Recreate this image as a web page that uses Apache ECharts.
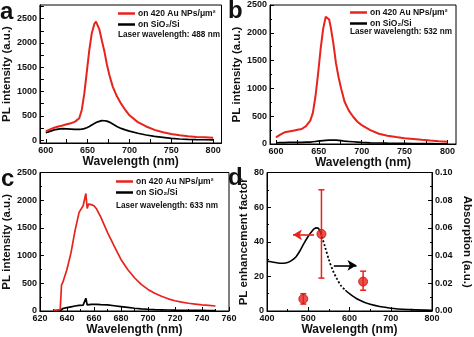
<!DOCTYPE html>
<html><head><meta charset="utf-8">
<script src="https://cdn.jsdelivr.net/npm/echarts@6/dist/echarts.min.js"></script>
<style>html,body{margin:0;padding:0;background:#fff}#c{width:474px;height:337px}</style>
</head><body><div id="c"></div>
<script>
// ---------- data ----------
const nameAu = 'on 420 Au NPs/μm²';
const nameSi = 'on SiO₂/Si';
const laserA = 'Laser wavelength: 488 nm';
const laserB = 'Laser wavelength: 532 nm';
const laserC = 'Laser wavelength: 633 nm';

const abWave = [600,605,610,615,620,625,630,635,640,643,646,649,652,655,658,660,662,664,667,670,673,676,680,685,690,695,700,710,720,730,740,750,760,770,780,790,800];
const aAu    = [180,220,255,280,300,325,345,380,450,620,950,1400,1850,2200,2390,2440,2400,2280,2050,1830,1560,1340,1100,900,750,620,510,370,280,210,160,125,100,80,65,58,50];
const aSi    = [150,180,210,225,235,230,225,220,220,225,235,255,280,310,340,360,375,390,400,398,390,370,330,280,240,210,185,140,105,75,55,35,22,15,10,7,5];
const bAu    = [120,170,210,225,240,255,270,320,420,560,850,1250,1700,2070,2290,2310,2240,2090,1800,1450,1200,1000,760,600,490,400,340,250,185,150,125,105,90,75,62,50,40];
const bSi    = [20,25,25,30,30,30,30,35,35,40,45,50,55,60,65,70,70,72,72,70,65,60,50,45,40,35,30,22,18,14,12,10,8,6,5,4,3];

const cWave = [630,633,635,636,637,640,643,646,649,652,653,654,655,656,658,660,662,665,670,675,680,685,690,695,700,705,710,715,720,725,730,735,740,745,750];
const cAu   = [15,20,25,470,520,750,1050,1450,1780,1900,1880,2120,1850,1930,1920,1900,1840,1700,1420,1170,930,750,600,480,390,320,265,220,185,160,140,125,110,100,90];
const cSi   = [0,0,5,40,45,60,75,90,100,105,105,230,110,115,120,120,120,115,110,95,80,65,50,40,32,26,22,18,15,13,12,10,10,9,8];

const dWave = [400,410,420,430,440,450,460,470,480,490,500,510,515,520,525,530,540,550,560,570,580,590,600,620,650,700,750,800];
const dAbs  = [0.036,0.0355,0.035,0.0345,0.0345,0.035,0.0365,0.039,0.0435,0.049,0.054,0.058,0.0595,0.060,0.0595,0.0565,0.047,0.037,0.029,0.023,0.018,0.015,0.0125,0.0085,0.0048,0.002,0.001,0.0005];
const dotFrom = 530, dotTo = 590;
const ptWave = [488,532,633];
const ptVal  = [7,44.5,17];
const ptLow  = [4,19,12];
const ptHigh = [10,70,23];
const redArrow = [[514,44],[463,44]];
const blackArrow = [[562,0.033],[617,0.033]];

const abXLabels = [600,650,700,750,800];
const abXTicks  = [600,625,650,675,700,725,750,775,800];
const aYLabels  = [0,500,1000,1500,2000,2500];
const aYTicks   = [0,250,500,750,1000,1250,1500,1750,2000,2250,2500,2750];

// ---------- helpers ----------
const RED = '#e8231c';
const FONT = 'Liberation Sans, Arial, sans-serif';
const pairs = (xs, ys) => xs.map((x, i) => [x, ys[i]]);
const lab = {fontFamily: FONT, fontSize: 9, fontWeight: 'bold', color: '#111', margin: 3, formatter: v => String(v)};
const tick = {inside: true, length: 4, lineStyle: {color: '#000', width: 1}};
const minor = {show: true, splitNumber: 2, length: 2, lineStyle: {color: '#000', width: 1}};
const line = {show: true, onZero: false, lineStyle: {color: '#000', width: 1}};
const nameStyle = {fontFamily: FONT, fontSize: 12, fontWeight: 'bold', color: '#111'};
function xAx(grid, extra) {
  return Object.assign({gridIndex: grid, type: 'value', splitLine: {show: false}, axisLine: line,
    name: 'Wavelength (nm)', nameLocation: 'middle', nameGap: 9, nameTextStyle: nameStyle,
    axisLabel: Object.assign({}, lab), axisTick: Object.assign({}, tick)}, extra);
}
function yAx(grid, extra) {
  return Object.assign({gridIndex: grid, type: 'value', splitLine: {show: false}, axisLine: line,
    name: 'PL intensity (a.u.)', nameLocation: 'middle', nameRotate: 90, nameGap: 21,
    nameTextStyle: Object.assign({}, nameStyle, {fontSize: 11.5}),
    axisLabel: Object.assign({}, lab), axisTick: Object.assign({}, tick)}, extra);
}
const splitPart = (lo, hi) => dWave.map((x, i) => [x, dAbs[i]]).filter(p => p[0] >= lo && p[0] <= hi);

const chart = echarts.init(document.getElementById('c'), null, {renderer: 'canvas'});
const gridBase = {show: true, borderColor: '#000', borderWidth: 1, backgroundColor: 'transparent', containLabel: false};
const legendBase = {orient: 'vertical', icon: 'rect', itemWidth: 17, itemHeight: 2.5, itemGap: 2,
  textStyle: {fontFamily: FONT, fontSize: 8.5, fontWeight: 'bold', color: '#111', padding: [0,0,0,-2]}, padding: 0,
  data: [nameAu, nameSi], selectedMode: false};

const option = {
  animation: false,
  grid: [
    Object.assign({left: 39, top: 5, width: 182.5, height: 138}, gridBase),
    Object.assign({left: 270, top: 5, width: 186, height: 139}, gridBase),
    Object.assign({left: 34, top: 172.5, width: 195, height: 138.5}, gridBase),
    Object.assign({left: 267, top: 172.5, width: 170, height: 138.5}, gridBase)
  ],
  xAxis: [
    xAx(0, {min: 593, max: 810, axisLabel: Object.assign({}, lab, {customValues: abXLabels}), axisTick: Object.assign({}, tick, {customValues: abXTicks})}),
    xAx(1, {min: 593, max: 810, axisLabel: Object.assign({}, lab, {customValues: abXLabels}), axisTick: Object.assign({}, tick, {customValues: abXTicks})}),
    xAx(2, {min: 620, max: 760, interval: 20, minorTick: minor}),
    xAx(3, {min: 400, max: 800, interval: 100, minorTick: minor})
  ],
  yAxis: [
    yAx(0, {min: -60, max: 2780, axisLabel: Object.assign({}, lab, {customValues: aYLabels}), axisTick: Object.assign({}, tick, {customValues: aYTicks})}),
    yAx(1, {min: 0, max: 2500, interval: 500, minorTick: minor, nameGap: 26}),
    yAx(2, {min: 0, max: 2500, interval: 500, minorTick: minor, nameGap: 19}),
    yAx(3, {min: 0, max: 80, interval: 20, minorTick: minor, name: 'PL enhancement factor', nameGap: 15}),
    yAx(3, {min: 0, max: 0.1, interval: 0.02, minorTick: minor, position: 'right', name: 'Absorption (a.u.)', nameRotate: -90, nameGap: 29,
      axisLabel: Object.assign({}, lab, {formatter: v => v.toFixed(2)})})
  ],
  legend: [
    Object.assign({left: 118, top: 9}, legendBase),
    Object.assign({left: 350, top: 8}, legendBase),
    Object.assign({left: 116, top: 177}, legendBase)
  ],
  graphic: [
    {type: 'text', left: 118, top: 31, style: {text: laserA, font: 'bold 8.2px ' + FONT, fill: '#111'}},
    {type: 'text', left: 350, top: 28, style: {text: laserB, font: 'bold 8.2px ' + FONT, fill: '#111'}},
    {type: 'text', left: 116, top: 202, style: {text: laserC, font: 'bold 8.2px ' + FONT, fill: '#111'}},
    {type: 'text', left: 0, top: 0, style: {text: 'a', font: 'bold 24px ' + FONT, fill: '#111'}},
    {type: 'text', left: 228, top: -1, style: {text: 'b', font: 'bold 24px ' + FONT, fill: '#111'}},
    {type: 'text', left: 1, top: 167, style: {text: 'c', font: 'bold 24px ' + FONT, fill: '#111'}},
    {type: 'text', left: 228, top: 166, style: {text: 'd', font: 'bold 24px ' + FONT, fill: '#111'}}
  ],
  series: [
    {name: nameSi, type: 'line', xAxisIndex: 0, yAxisIndex: 0, data: pairs(abWave, aSi), showSymbol: false, lineStyle: {color: '#000', width: 1.7}, itemStyle: {color: '#000'}},
    {name: nameAu, type: 'line', xAxisIndex: 0, yAxisIndex: 0, data: pairs(abWave, aAu), showSymbol: false, lineStyle: {color: RED, width: 2}, itemStyle: {color: RED}},
    {name: nameSi, type: 'line', xAxisIndex: 1, yAxisIndex: 1, data: pairs(abWave, bSi), showSymbol: false, lineStyle: {color: '#000', width: 1.7}, itemStyle: {color: '#000'}},
    {name: nameAu, type: 'line', xAxisIndex: 1, yAxisIndex: 1, data: pairs(abWave, bAu), showSymbol: false, lineStyle: {color: RED, width: 2}, itemStyle: {color: RED}},
    {name: nameSi, type: 'line', xAxisIndex: 2, yAxisIndex: 2, data: pairs(cWave, cSi), showSymbol: false, lineStyle: {color: '#000', width: 1.7}, itemStyle: {color: '#000'}},
    {name: nameAu, type: 'line', xAxisIndex: 2, yAxisIndex: 2, data: pairs(cWave, cAu), showSymbol: false, lineStyle: {color: RED, width: 1.7}, itemStyle: {color: RED}},
    {type: 'line', xAxisIndex: 3, yAxisIndex: 4, data: splitPart(400, dotFrom), showSymbol: false, smooth: 0.3, lineStyle: {color: '#000', width: 1.6}},
    {type: 'line', xAxisIndex: 3, yAxisIndex: 4, data: splitPart(dotFrom, dotTo), showSymbol: false, smooth: 0.3, lineStyle: {color: '#000', width: 1.8, type: [2, 2]}},
    {type: 'line', xAxisIndex: 3, yAxisIndex: 4, data: splitPart(dotTo, 800), showSymbol: false, smooth: 0.3, lineStyle: {color: '#000', width: 1.6},
      markLine: {silent: true, symbol: ['none', 'arrow'], symbolSize: [8, 9], label: {show: false},
        lineStyle: {color: '#000', width: 1.6, type: 'solid'},
        data: [[{coord: blackArrow[0]}, {coord: blackArrow[1]}]]}},
    {type: 'custom', xAxisIndex: 3, yAxisIndex: 3, data: ptWave.map((x, i) => [x, ptLow[i], ptHigh[i]]),
      renderItem: function (params, api) {
        const lo = api.coord([api.value(0), api.value(1)]);
        const hi = api.coord([api.value(0), api.value(2)]);
        const w = 3;
        const st = {stroke: RED, lineWidth: 1.5};
        return {type: 'group', children: [
          {type: 'line', shape: {x1: hi[0], y1: hi[1], x2: lo[0], y2: lo[1]}, style: st},
          {type: 'line', shape: {x1: hi[0] - w, y1: hi[1], x2: hi[0] + w, y2: hi[1]}, style: st},
          {type: 'line', shape: {x1: lo[0] - w, y1: lo[1], x2: lo[0] + w, y2: lo[1]}, style: st}
        ]};
      }, z: 3},
    {type: 'scatter', xAxisIndex: 3, yAxisIndex: 3, data: pairs(ptWave, ptVal), symbolSize: 9,
      itemStyle: {color: RED, borderColor: '#c01010', borderWidth: 1}, z: 4,
      markLine: {silent: true, symbol: ['none', 'arrow'], symbolSize: [8, 9], label: {show: false},
        lineStyle: {color: RED, width: 1.6, type: 'solid'},
        data: [[{coord: redArrow[0]}, {coord: redArrow[1]}]]}}
  ]
};
chart.setOption(option);
</script></body></html>
